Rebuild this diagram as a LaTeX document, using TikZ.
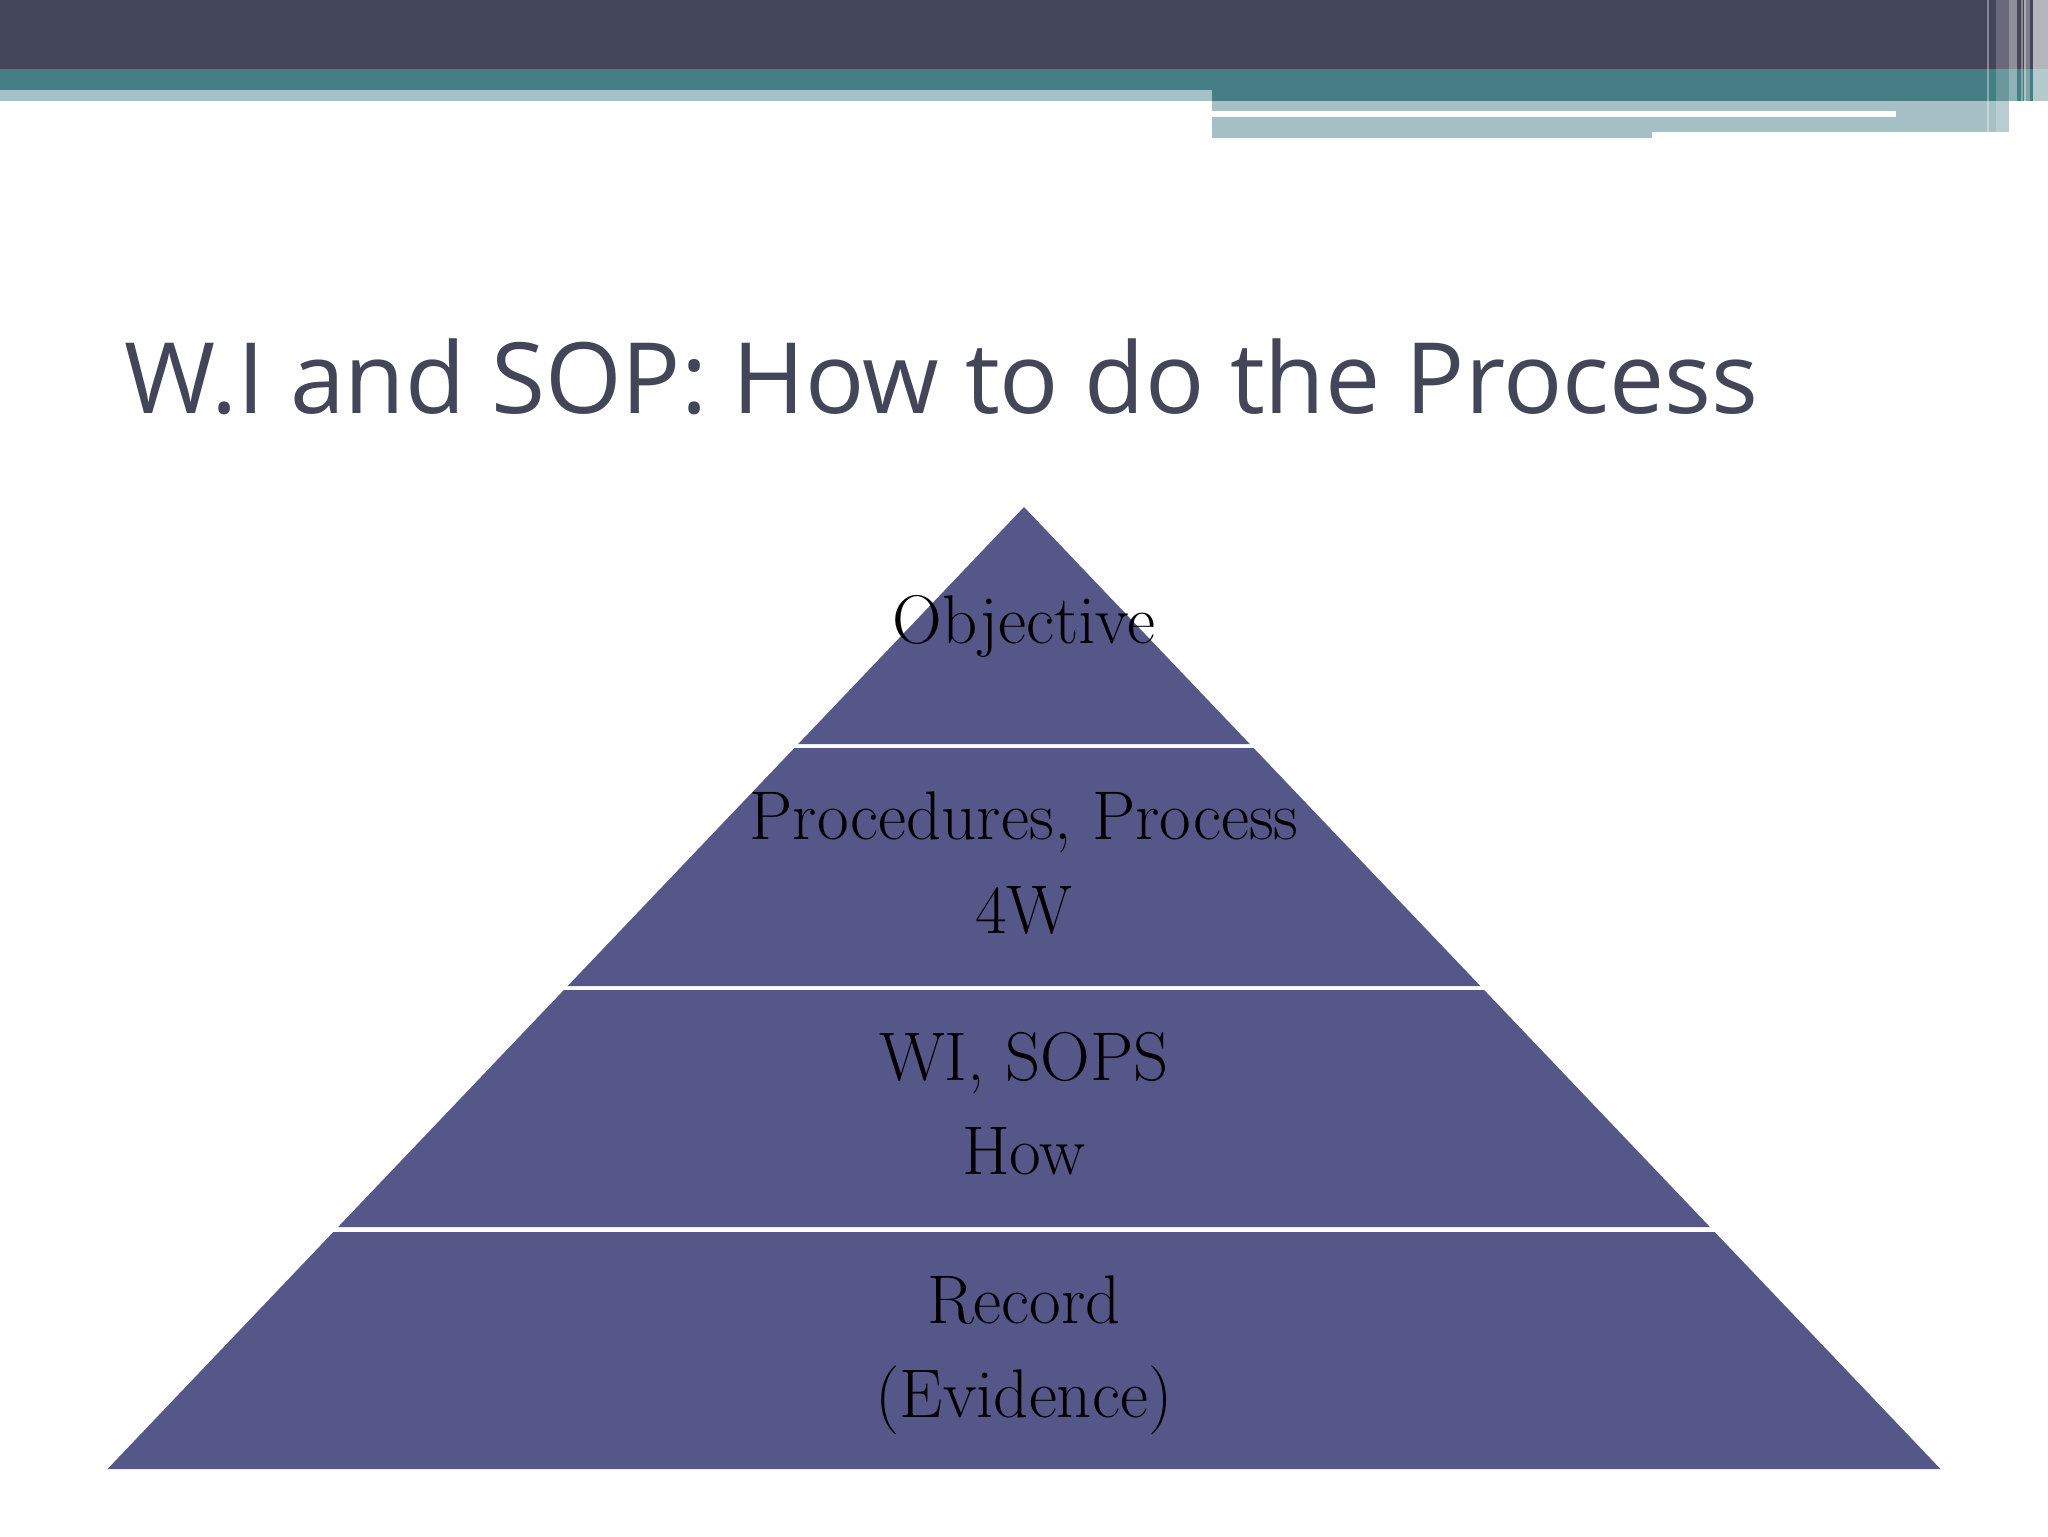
\documentclass[tikz,border=0pt]{standalone}
\usepackage{fontspec}
\newfontfamily\titlefont{Open Sans}
\usepackage{tikz}
\definecolor{cBar}{HTML}{434559}
\definecolor{cTeal}{HTML}{457F85}
\definecolor{cMist}{HTML}{A5C1C6}
\definecolor{cPyr}{HTML}{555789}

\begin{document}
\begin{tikzpicture}[x=0.1mm, y=-0.1mm,
    lvltext/.style={font=\fontsize{19.6}{26.5}\selectfont, align=center, anchor=base, inner sep=0pt, text=black}]
  \useasboundingbox (0,0) rectangle (2048,1536);
  \fill[white] (0,0) rectangle (2048,1536);
  % header bands
  \fill[cBar]  (0,0)      rectangle (2048,69);
  \fill[cTeal] (0,69)     rectangle (2048,101);
  \fill[cMist] (0,90)     rectangle (1212,101);
  \fill[cMist] (1212,101) rectangle (2009,132);
  \fill[cMist] (1212,132) rectangle (1652,138);
  \fill[white] (1212,111) rectangle (1896,117);
  % vertical stripes at the right end
  \foreach \xa/\xb/\yb/\op in {1987/1989/132/0.35, 1996/2009/132/0.2, 2009/2017/138/0.4,
                               2021/2023/138/0.35, 2024/2026/138/0.55, 2026/2030/138/0.3, 2033/2048/138/0.6}
    \fill[white, opacity=\op] (\xa,0) rectangle (\xb,\yb);
  % title
  \node[font=\titlefont\fontsize{28}{34}\selectfont, text=cBar, anchor=base west, inner sep=0pt]
    (title) at (124,413) {W.I and SOP: How to do the Process};
  % pyramid levels
  \foreach \t/\b in {507/744, 748/986, 990/1227, 1232/1469}
    \fill[cPyr] ({1024-(\t-507)*0.9527},\t) -- ({1024+(\t-507)*0.9527},\t)
      -- ({1024+(\b-507)*0.9527},\b) -- ({1024-(\b-507)*0.9527},\b) -- cycle;
  % labels (base = last line)
  \node[lvltext] (objective) at (1024,643)  {Objective};
  \node[lvltext] (procedure) at (1024,933)  {Procedures, Process\\\oldstylenums{4}W};
  \node[lvltext] (wisops)    at (1024,1174) {WI, SOPS\\How};
  \node[lvltext] (record)    at (1024,1417) {Record\\(Evidence)};
\end{tikzpicture}
\end{document}
